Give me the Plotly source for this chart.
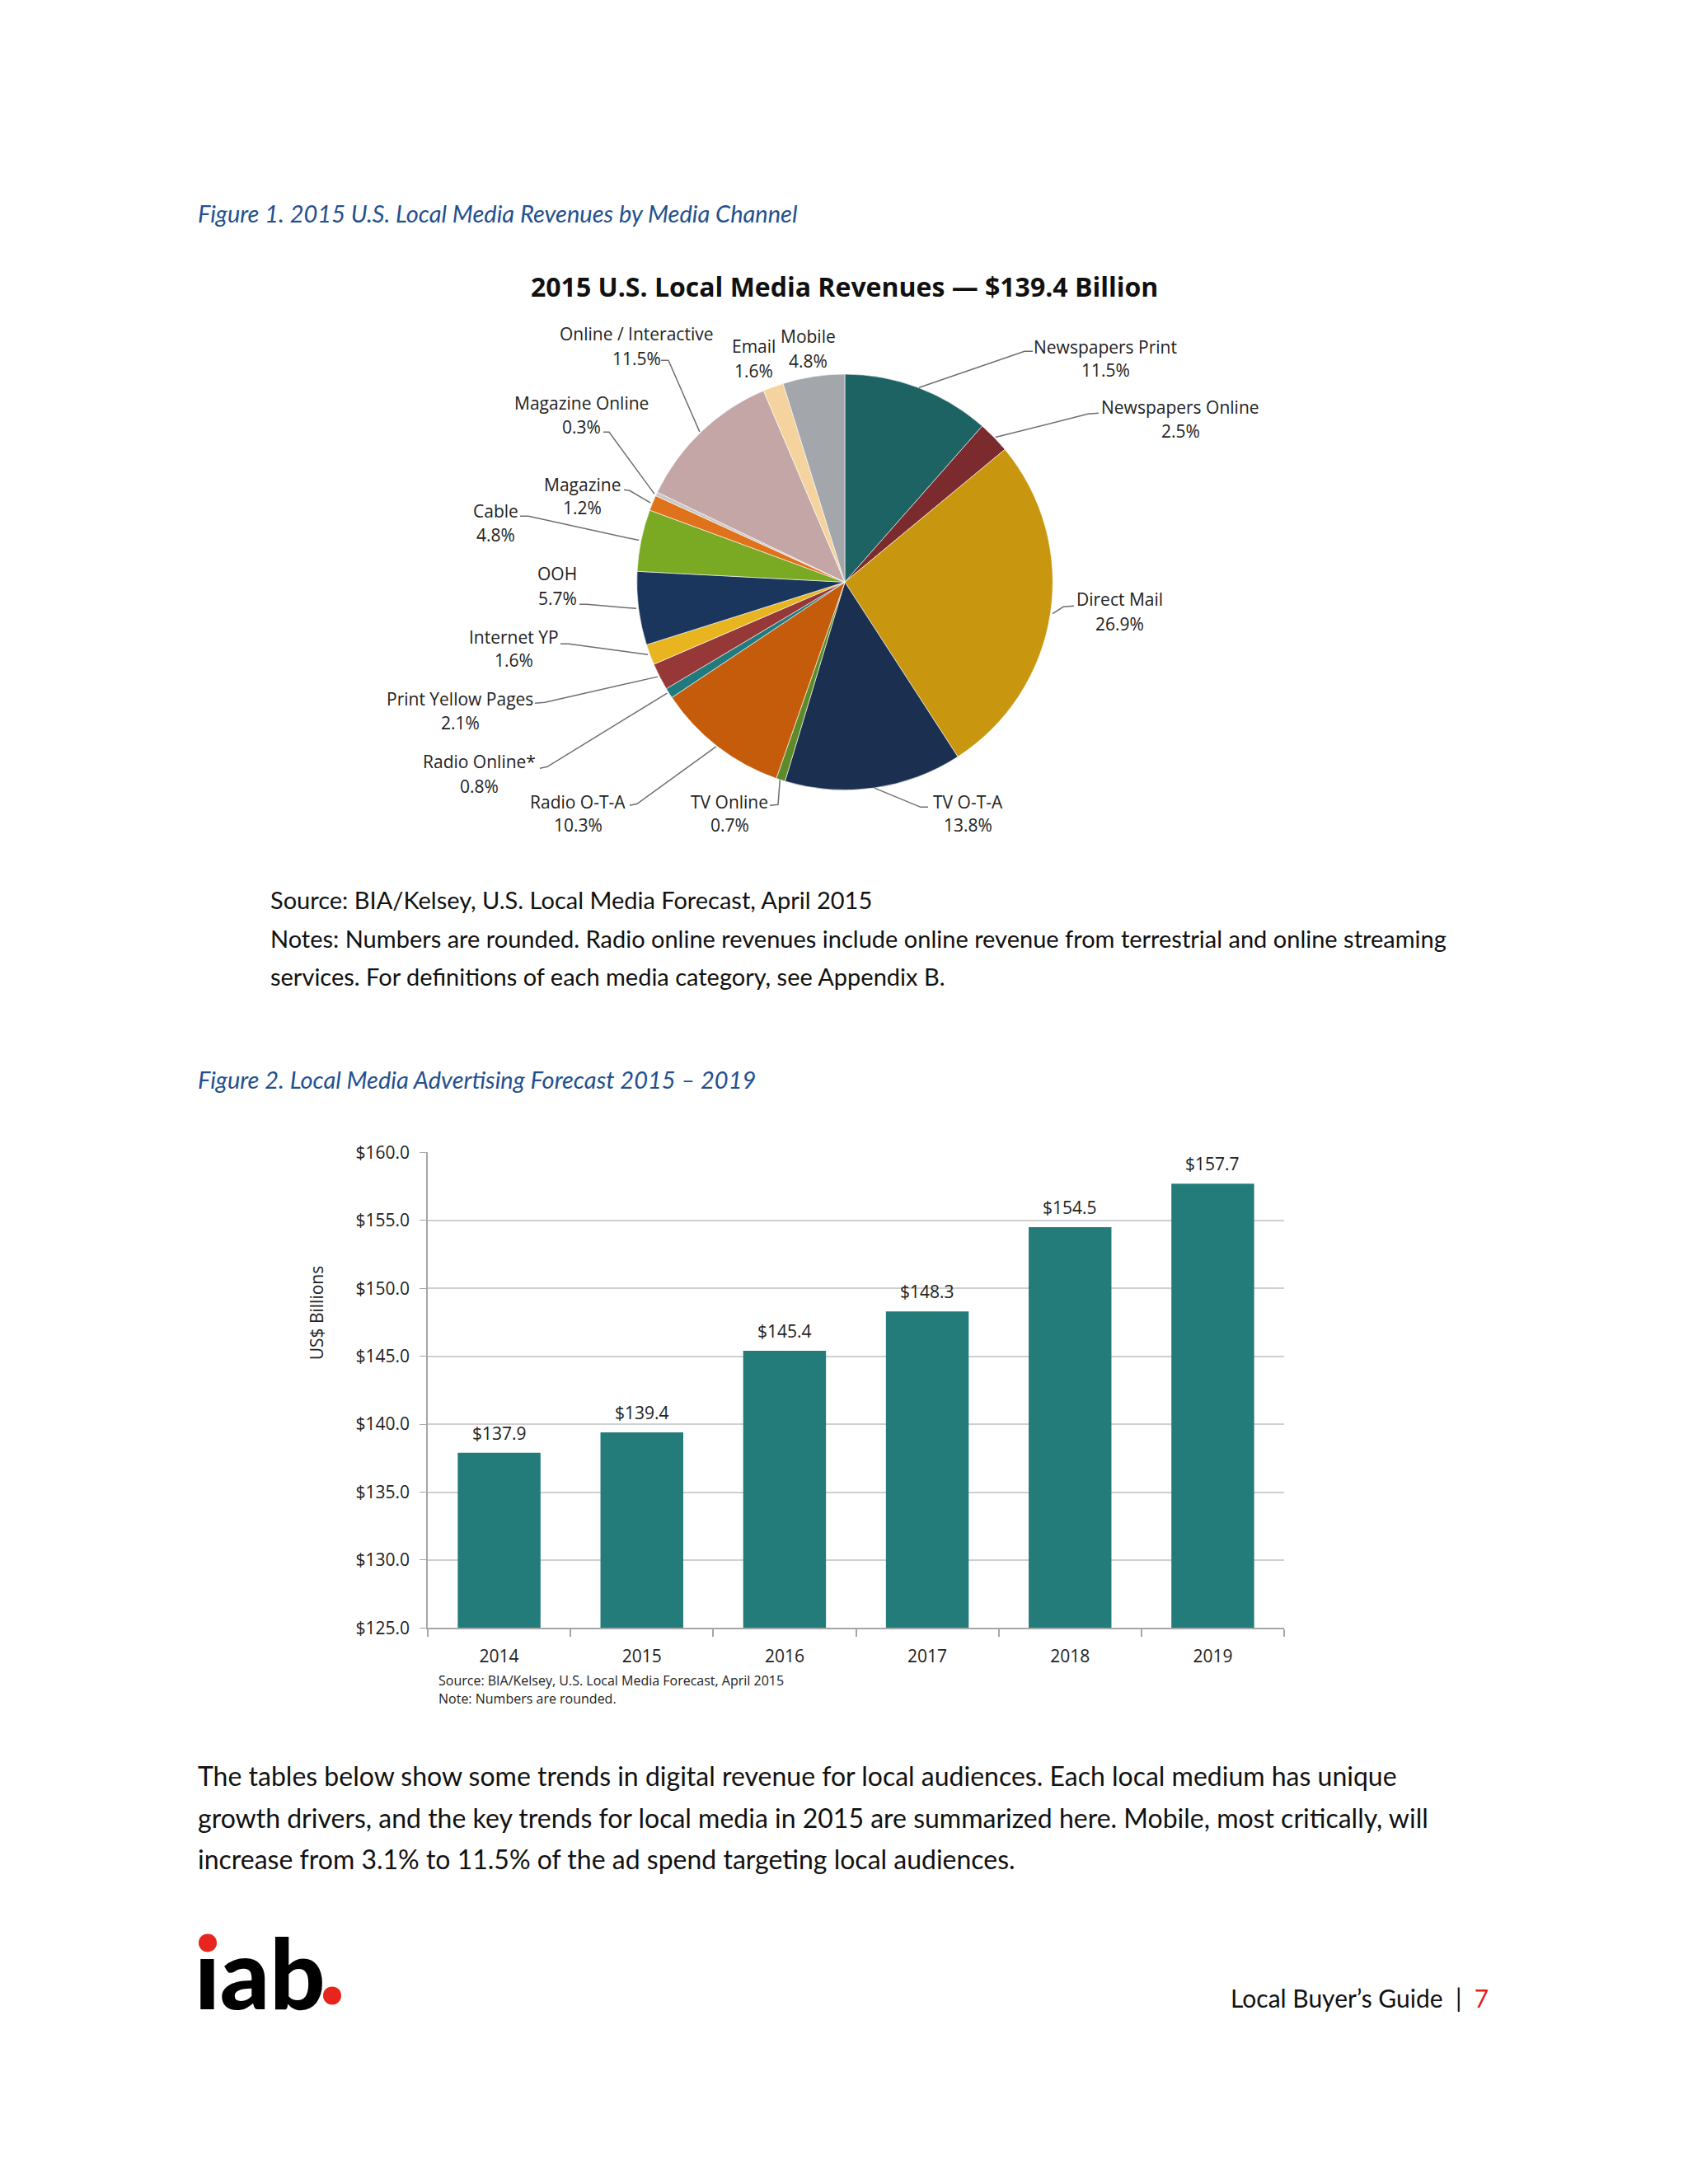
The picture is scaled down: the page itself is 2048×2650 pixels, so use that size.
import plotly.graph_objects as go
import math

W, H = 2048, 2650

# ---------------- data ----------------
pie_labels = ["Newspapers Print", "Newspapers Online", "Direct Mail", "TV O-T-A", "TV Online",
              "Radio O-T-A", "Radio Online*", "Print Yellow Pages", "Internet YP", "OOH", "Cable",
              "Magazine", "Magazine Online", "Online / Interactive", "Email", "Mobile"]
pie_values = [11.5, 2.5, 26.9, 13.8, 0.7, 10.3, 0.8, 2.1, 1.6, 5.7, 4.8, 1.2, 0.3, 11.5, 1.6, 4.8]
pie_colors = ["#1d6363", "#7b2b2e", "#c9960f", "#1b2f50", "#5d8b2b", "#c45c0c", "#1f7b7e", "#963838",
              "#e8b41f", "#1b365d", "#7aa923", "#e0721b", "#c9c9c9", "#c5a6a6", "#f5d39e", "#a3a7ac"]
pie_title = "2015 U.S. Local Media Revenues \u2014 $139.4 Billion"

years = ["2014", "2015", "2016", "2017", "2018", "2019"]
revenue = [137.9, 139.4, 145.4, 148.3, 154.5, 157.7]
y_ticks = [125, 130, 135, 140, 145, 150, 155, 160]
y_tick_text = ["$%.1f" % v for v in y_ticks]

# ---------------- layout helpers ----------------
# vertical calibration of the captured page (measured from previous renders)
V_SCALE, V_OFF = 0.9894, 15.7

def px(x):
    return x / W

def placed(y):
    return (y - V_OFF) / V_SCALE

def py_raw(yp):
    return 1 - yp / H

def py(y):
    return py_raw(placed(y))

PIE_CX, PIE_CY, PIE_R = 1025, 707, 255
PIE_CYP = placed(PIE_CY)
BODY_FONT = "Lato"
CHART_FONT = "Open Sans"

# label layout (pixel positions of text, and leader-line stub points)
label_layout = {
    "Newspapers Print": ((1341, 422, 450), [(1253, 427), (1243, 427)]),
    "Newspapers Online": ((1432, 495, 524), [(1333, 502), (1320, 503)]),
    "Direct Mail": ((1358, 728, 758), [(1303, 736), (1290, 737)]),
    "TV O-T-A": ((1174, 974, 1002), [(1126, 980), (1117, 980)]),
    "TV Online": ((885, 974, 1002), [(934, 978), (944, 977)]),
    "Radio O-T-A": ((701, 974, 1002), [(764, 978), (773, 976)]),
    "Radio Online*": ((581, 925, 955), [(655, 933), (664, 931)]),
    "Print Yellow Pages": ((558, 849, 878), [(649, 854), (661, 853)]),
    "Internet YP": ((623, 774, 802), [(680, 782), (690, 782)]),
    "OOH": ((676, 697, 727), [(703, 734), (712, 734)]),
    "Cable": ((601, 621, 650), [(631, 627), (641, 627)]),
    "Magazine": ((706, 589, 617), [(757, 595), (764, 596)]),
    "Magazine Online": ((705, 490, 519), [(732, 525), (739, 525)]),
    "Online / Interactive": ((772, 406, 436), [(802, 438), (811, 438)]),
    "Email": ((914, 421, 451), []),
    "Mobile": ((980, 409, 439), []),
}

fig = go.Figure()

fig.add_trace(go.Pie(
    labels=pie_labels, values=pie_values, sort=False, direction="clockwise", rotation=0,
    marker=dict(colors=pie_colors, line=dict(color="#ffffff", width=0.6)),
    textinfo="none", showlegend=False,
    domain=dict(x=[px(PIE_CX - PIE_R), px(PIE_CX + PIE_R)],
                y=[py_raw(PIE_CYP + PIE_R), py_raw(PIE_CYP - PIE_R)]),
))

fig.add_trace(go.Bar(
    x=years, y=revenue, marker=dict(color="#237c79", line=dict(width=0)),
    showlegend=False, xaxis="x", yaxis="y",
))

annotations = []
shapes = []

LABEL_SIZE = 21
total = sum(pie_values)
cum = 0.0
for lab, val in zip(pie_labels, pie_values):
    mid = (cum + val / 2) / total * 2 * math.pi
    cum += val
    tipx = PIE_CX + PIE_R * math.sin(mid)
    tipyp = PIE_CYP - PIE_R * math.cos(mid)
    (cx, y1, y2), stub = label_layout[lab]
    annotations.append(dict(x=px(cx), y=py(y1), xref="paper", yref="paper", text=lab, showarrow=False,
                            xanchor="center", yanchor="middle",
                            font=dict(family=CHART_FONT, size=LABEL_SIZE, color="#222222")))
    annotations.append(dict(x=px(cx), y=py(y2), xref="paper", yref="paper", text="%.1f%%" % val,
                            showarrow=False, xanchor="center", yanchor="middle",
                            font=dict(family=CHART_FONT, size=LABEL_SIZE, color="#222222")))
    if stub:
        pts = [(px(a), py(b)) for a, b in stub] + [(px(tipx), py_raw(tipyp))]
        path = "M %f,%f " % pts[0] + " ".join("L %f,%f" % p for p in pts[1:])
        shapes.append(dict(type="path", path=path, xref="paper", yref="paper",
                           line=dict(color="#6e6e6e", width=1.5)))

# pie title
annotations.append(dict(x=px(1024), y=py(348), xref="paper", yref="paper", text="<b>%s</b>" % pie_title,
                        showarrow=False, xanchor="center", yanchor="middle",
                        font=dict(family=CHART_FONT, size=32, color="#111111")))

# bar value labels (positioned on the category index of each bar)
for i, v in enumerate(revenue):
    annotations.append(dict(x=i, y=v, xref="x", yref="y", text="$%.1f" % v, showarrow=False,
                            xanchor="center", yanchor="bottom", yshift=8,
                            font=dict(family=CHART_FONT, size=21, color="#222222")))

# y axis title
annotations.append(dict(x=px(384), y=py(1594), xref="paper", yref="paper", text="US$ Billions",
                        textangle=-90, showarrow=False, xanchor="center", yanchor="middle",
                        font=dict(family=CHART_FONT, size=21, color="#222222")))

# bar source
annotations.append(dict(x=px(530), y=py(2040), xref="paper", yref="paper",
                        text="Source: BIA/Kelsey, U.S. Local Media Forecast, April 2015", showarrow=False,
                        xanchor="left", yanchor="middle", font=dict(family=CHART_FONT, size=16, color="#222222")))
annotations.append(dict(x=px(530), y=py(2062), xref="paper", yref="paper",
                        text="Note: Numbers are rounded.", showarrow=False,
                        xanchor="left", yanchor="middle", font=dict(family=CHART_FONT, size=16, color="#222222")))

# captions
CAP_COLOR = "#22508f"
annotations.append(dict(x=px(238), y=py(259), xref="paper", yref="paper",
                        text="<i>Figure 1. 2015 U.S. Local Media Revenues by Media Channel</i>", showarrow=False,
                        xanchor="left", yanchor="middle", font=dict(family=BODY_FONT, size=29, color=CAP_COLOR)))
annotations.append(dict(x=px(238), y=py(1310), xref="paper", yref="paper",
                        text="<i>Figure 2. Local Media Advertising Forecast 2015 \u2013 2019</i>", showarrow=False,
                        xanchor="left", yanchor="middle", font=dict(family=BODY_FONT, size=29, color=CAP_COLOR)))

# source / notes under pie
notes = [
    (1092, "Source: BIA/Kelsey, U.S. Local Media Forecast, April 2015"),
    (1139, "Notes: Numbers are rounded. Radio online revenues include online revenue from terrestrial and online streaming"),
    (1185, "services. For definitions of each media category, see Appendix B."),
]
for yy, t in notes:
    annotations.append(dict(x=px(326), y=py(yy), xref="paper", yref="paper", text=t, showarrow=False,
                            xanchor="left", yanchor="middle", font=dict(family=BODY_FONT, size=29, color="#111111")))

# paragraph
para = [
    (2155, "The tables below show some trends in digital revenue for local audiences. Each local medium has unique"),
    (2206, "growth drivers, and the key trends for local media in 2015 are summarized here. Mobile, most critically, will"),
    (2256, "increase from 3.1% to 11.5% of the ad spend targeting local audiences."),
]
for yy, t in para:
    annotations.append(dict(x=px(238), y=py(yy), xref="paper", yref="paper", text=t, showarrow=False,
                            xanchor="left", yanchor="middle", font=dict(family=BODY_FONT, size=32, color="#111111")))

# footer
annotations.append(dict(x=px(1808), y=py(2425), xref="paper", yref="paper",
                        text="Local Buyer\u2019s Guide  |  <span style='color:#e0201b'>7</span>", showarrow=False,
                        xanchor="right", yanchor="middle", font=dict(family=BODY_FONT, size=30, color="#111111")))

# iab logo
annotations.append(dict(x=px(234), y=py(2393), xref="paper", yref="paper", text="\u0131ab", showarrow=False,
                        xanchor="left", yanchor="middle",
                        font=dict(family="Lato", size=118, color="#000000", weight=900)))
for (cx, cy, r) in [(252, 2358, 11), (403, 2422, 11)]:
    shapes.append(dict(type="circle", xref="paper", yref="paper", x0=px(cx - r), x1=px(cx + r),
                       y0=py(cy + r), y1=py(cy - r), fillcolor="#e8241e", line=dict(width=0)))

fig.update_layout(
    width=W, height=H, margin=dict(l=0, r=0, t=0, b=0),
    paper_bgcolor="#ffffff", plot_bgcolor="#ffffff",
    bargap=0.42,
    xaxis=dict(domain=[px(519), px(1558)], anchor="y", type="category", range=[-0.5, len(years) - 0.5],
               autorange=False, showline=True,
               linecolor="#a6a6a6", linewidth=2, ticks="outside", tickson="boundaries", ticklen=9,
               tickcolor="#a6a6a6", tickwidth=1.5, showgrid=False, ticklabelstandoff=14,
               tickfont=dict(family=CHART_FONT, size=21, color="#222222"), fixedrange=True),
    yaxis=dict(domain=[py(1976), py(1399)], anchor="x", range=[125, 160], autorange=False, tickvals=y_ticks,
               ticktext=y_tick_text, showgrid=True, gridcolor="#cfcfcf", gridwidth=2,
               showline=True, linecolor="#a6a6a6", linewidth=1.5, ticks="outside", ticklen=8,
               tickcolor="#a6a6a6", zeroline=False, ticklabelstandoff=8,
               tickfont=dict(family=CHART_FONT, size=21, color="#222222"), fixedrange=True),
    annotations=annotations, shapes=shapes,
)

fig.write_html(
    "out.html",
    config={"displayModeBar": False},
    post_script=("var de=document.documentElement;de.style.margin='0';de.style.padding='0';"
                 "de.style.height='2650px';de.style.overflow='hidden';"
                 "document.body.style.margin='0';document.body.style.padding='0';"
                 "document.body.style.height='2650px';document.body.style.overflow='hidden';"
                 "var d=document.getElementById('{plot_id}');d.style.position='absolute';"
                 "d.style.left='0px';d.style.top='0px';"),
)
